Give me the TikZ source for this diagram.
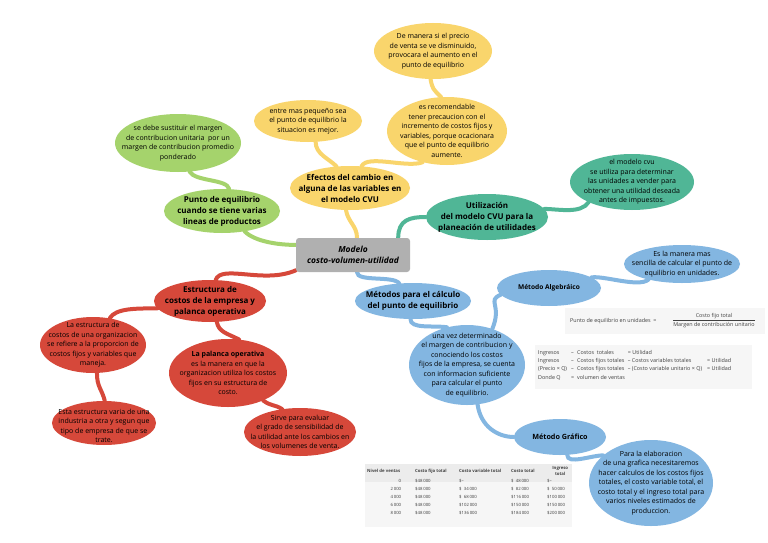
\documentclass[tikz,border=0pt]{standalone}
\usepackage{fontspec}
\setmainfont{Open Sans}
\usepackage{array}
\usetikzlibrary{shapes.geometric}
\pgfdeclarelayer{back}
\pgfdeclarelayer{bg}
\pgfsetlayers{back,bg,main}
\definecolor{cyel}{RGB}{249,213,108}
\definecolor{cgrn}{RGB}{165,211,108}
\definecolor{ctea}{RGB}{80,182,150}
\definecolor{cred}{RGB}{214,72,58}
\definecolor{cblu}{RGB}{131,182,225}
\definecolor{cgry}{RGB}{176,176,176}
\definecolor{cbox}{RGB}{246,246,246}
\definecolor{chead}{RGB}{236,236,236}
\begin{document}
\begin{tikzpicture}[x=1pt,y=-1pt,
  blob/.style={ellipse, inner sep=0pt, draw=none},
  txt/.style={align=center, inner sep=0pt, text=black, font=\fontsize{7}{9.5}\selectfont},
  ttl/.style={align=center, inner sep=0pt, text=black, font=\fontsize{8}{11}\selectfont\bfseries},
  sml/.style={align=center, inner sep=0pt, text=black, font=\fontsize{6.6}{8}\selectfont\bfseries},
  con/.style={line width=4pt, line cap=round},
  tiny/.style={inner sep=0pt, text=black!75, font=\fontsize{5.4}{8.8}\selectfont}
]
\begin{pgfonlayer}{back}
\fill[white] (0,0) rectangle (768,543);
\end{pgfonlayer}
\useasboundingbox (0,0) rectangle (768,543);

% centre
\node[rectangle, rounded corners=3pt, fill=cgry, minimum width=114pt, minimum height=34pt, inner sep=0pt] (cen) at (353,255) {};
\node[align=center, inner sep=0pt, font=\fontsize{8.4}{11.5}\selectfont\bfseries\itshape] (cenT) at (cen) {Modelo\\costo-volumen-utilidad};

% yellow
\node[blob, fill=cyel, minimum width=120pt, minimum height=44pt] (efe) at (350,188) {};
\node[ttl] (efeT) at (efe) {Efectos del cambio en\\alguna de las variables en\\el modelo CVU};
\node[blob, fill=cyel, minimum width=108pt, minimum height=42pt] (entre) at (308,121) {};
\node[txt] (entreT) at (entre) {entre mas pequeño sea\\el punto de equilibrio la\\situacion es mejor.};
\node[blob, fill=cyel, minimum width=120pt, minimum height=68pt] (esrec) at (447,131) {};
\node[txt] (esrecT) at (esrec) {es recomendable\\tener precaucion con el\\incremento de costos fijos y\\variables, porque ocacionara\\que el punto de equilibrio\\aumente.};
\node[blob, fill=cyel, minimum width=118pt, minimum height=56pt] (dem) at (433,51) {};
\node[txt] (demT) at (dem) {De manera si el precio\\de venta se ve disminuido,\\provocara el aumento en el\\punto de equilibrio};

% green
\node[blob, fill=cgrn, minimum width=116pt, minimum height=44pt] (pt) at (222,211) {};
\node[ttl] (ptT) at (pt) {Punto de equilibrio\\cuando se tiene varias\\lineas de productos};
\node[blob, fill=cgrn, minimum width=126pt, minimum height=58pt] (sed) at (178,143) {};
\node[txt] (sedT) at (sed) {se debe sustituir el margen\\de contribucion unitaria\ \ por un\\margen de contribucion promedio\\ponderado};

% teal
\node[blob, fill=ctea, minimum width=122pt, minimum height=46pt] (uti) at (487,217) {};
\node[ttl] (utiT) at (uti) {Utilización\\del modelo CVU para la\\planeación de utilidades};
\node[blob, fill=ctea, minimum width=124pt, minimum height=56pt] (utl) at (632,182) {};
\node[txt] (utlT) at (utl) {el modelo cvu\\se utiliza para determinar\\las unidades a vender para\\obtener una utilidad deseada\\antes de impuestos.};

% red
\node[blob, fill=cred, minimum width=112pt, minimum height=42pt] (est) at (210,301) {};
\node[ttl] (estT) at (est) {Estructura de\\costos de la empresa y\\palanca operativa};
\node[blob, fill=cred, minimum width=106pt, minimum height=56pt] (lae) at (93,345) {};
\node[txt] (laeT) at (lae) {La estructura de\\costos de una organizacion\\se refiere a la proporcion de\\costos fijos y variables que\\maneja.};
\node[blob, fill=cred, minimum width=104pt, minimum height=44pt] (esta) at (104,423) {};
\node[txt] (estaT) at ([yshift=-3pt]esta) {Esta estructura varia de una\\industria a otra y segun que\\tipo de empresa de que se\\trate.};
\node[blob, fill=cred, minimum width=118pt, minimum height=68pt] (pal) at (228,373) {};
\node[txt] (palT) at (pal) {\textbf{La palanca operativa}\\es la manera en que la\\organizacion utiliza los costos\\fijos en su estructura de\\costo.};
\node[blob, fill=cred, minimum width=112pt, minimum height=48pt] (sir) at (300,432) {};
\node[txt] (sirT) at (sir) {Sirve para evaluar\\el grado de sensibilidad de\\la utilidad ante los cambios en\\los volumenes de venta.};

% blue
\node[blob, fill=cblu, minimum width=116pt, minimum height=36pt] (met) at (413,301) {};
\node[ttl] (metT) at (met) {Métodos para el cálculo\\del punto de equilibrio};
\node[blob, fill=cblu, minimum width=116pt, minimum height=80pt] (una) at (467,365) {};
\node[txt] (unaT) at (una) {una vez determinado\\el margen de contribucion y\\conociendo los costos\\fijos de la empresa, se cuenta\\con informacion suficiente\\para calcular el punto\\de equilibrio.};
\node[blob, fill=cblu, minimum width=104pt, minimum height=36pt] (alg) at (549,288) {};
\node[sml] (algT) at (alg) {Método Algebráico};
\node[blob, fill=cblu, minimum width=116pt, minimum height=38pt] (esl) at (682,264) {};
\node[txt] (eslT) at (esl) {Es la manera mas\\sencilla de calcular el punto de\\equilibrio en unidades.};
\node[blob, fill=cblu, minimum width=92pt, minimum height=36pt] (gra) at (560,437) {};
\node[sml, font=\fontsize{7.2}{8}\selectfont\bfseries] (graT) at (gra) {Método Gráfico};
\node[blob, fill=cblu, minimum width=124pt, minimum height=86pt] (par) at (651,483) {};
\node[txt] (parT) at (par) {Para la elaboracion\\de una grafica necesitaremos\\hacer calculos de los costos fijos\\totales, el costo variable total, el\\costo total y el ingreso total para\\varios niveles estimados de\\produccion.};

% formula box
\fill[cbox] (565,308) rectangle (765,334);
\node[tiny, anchor=west] (fl) at (570,321) {Punto de equilibrio en unidades\ \ =};
\node[tiny, anchor=center] (fr) at (714,321) {\setlength{\tabcolsep}{0pt}\renewcommand{\arraystretch}{0.7}\begin{tabular}{c}Costo fijo total\\[1pt]\hline\rule{0pt}{6pt}Margen de contribución unitario\end{tabular}};

% equation box
\fill[cbox] (535,345) rectangle (752,389);
\node[tiny, anchor=north west] (eq) at (538,348) {\renewcommand{\arraystretch}{0.95}\begin{tabular}{@{}l@{\hspace{4pt}}l@{\hspace{3pt}}l@{\hspace{3pt}}l@{\hspace{5pt}}l@{}}
Ingresos & – & Costos\ \ totales & = Utilidad & \\
Ingresos & – & Costos fijos totales & – Costos variables totales & = Utilidad\\
(Precio × Q) & – & Costos fijos totales & – (Costo variable unitario × Q) & = Utilidad\\
Donde Q & = & volumen de ventas & & \\
\end{tabular}};

% table
\fill[cbox] (365,464) rectangle (572,527);
\fill[chead] (365,464) rectangle (572,482);
\node[tiny, font=\fontsize{4.3}{5.2}\selectfont, anchor=north west] (tab) at (367,466) {\setlength{\tabcolsep}{0pt}\renewcommand{\arraystretch}{1.55}\begin{tabular}{@{}>{\raggedleft\arraybackslash}p{34pt}@{\hspace{14pt}}>{\raggedright\arraybackslash}p{38pt}@{\hspace{6pt}}>{\raggedright\arraybackslash}p{46pt}@{\hspace{6pt}}>{\raggedright\arraybackslash}p{32pt}@{\hspace{4pt}}>{\raggedright\arraybackslash}p{26pt}@{}}
\multicolumn{1}{@{}l}{\textbf{Nivel de ventas}} & \multicolumn{1}{l}{\textbf{Costo fijo total}} & \multicolumn{1}{l}{\textbf{Costo variable total}} & \multicolumn{1}{l}{\textbf{Costo total}} & \multicolumn{1}{c}{\renewcommand{\arraystretch}{1}\begin{tabular}{@{}c@{}}\textbf{Ingreso}\\\textbf{total}\end{tabular}}\\
0 & \$48\,000 & \$– & \$\ \ 48\,000 & \$–\\
2\,000 & \$48\,000 & \$\ \ 34\,000 & \$\ \ 82\,000 & \$\ \ 50\,000\\
4\,000 & \$48\,000 & \$\ \ 68\,000 & \$116\,000 & \$100\,000\\
6\,000 & \$48\,000 & \$102\,000 & \$150\,000 & \$150\,000\\
8\,000 & \$48\,000 & \$136\,000 & \$184\,000 & \$200\,000\\
\end{tabular}};

% connectors
\begin{pgfonlayer}{bg}
\draw[con,cyel] ([xshift=4pt]cen.north) .. controls +(0,-12) and +(2,12) .. ([xshift=-4pt]efe.south);
\draw[con,cyel] (efe.122) .. controls +(-8,-8) and +(0,12) .. (entre.290);
\draw[con,cyel] (efe.62) .. controls +(6,-12) and +(-16,6) .. (esrec.232);
\draw[con,cyel] (esrec.100) .. controls +(-8,-8) and +(2,10) .. (dem.265);
\draw[con,cgrn] (cen.170) .. controls +(-18,0) and +(10,10) .. (pt.318);
\draw[con,cgrn] (pt.72) .. controls +(-2,-10) and +(6,10) .. (sed.292);
\draw[con,ctea] ([xshift=-12pt]cen.north east) .. controls +(0,-18) and +(-16,0) .. (uti.west);
\draw[con,ctea] (uti.8) .. controls +(14,0) and +(-8,12) .. (utl.205);
\draw[con,cred] (cen.195) .. controls +(-32,14) and +(6,-16) .. (est.75);
\draw[con,cred] (est.188) .. controls +(-22,0) and +(6,-10) .. (lae.58);
\draw[con,cred] (lae.278) .. controls +(0,14) and +(-3,-12) .. (esta.88);
\draw[con,cred] (est.288) .. controls +(2,10) and +(-12,-6) .. (pal.72);
\draw[con,cred] (pal.322) .. controls +(8,6) and +(-8,-5) .. (sir.128);
\draw[con,cblu] ([xshift=4pt]cen.south) .. controls +(0,10) and +(-6,-8) .. (met.128);
\draw[con,cblu] (met.262) .. controls +(0,10) and +(-14,-2) .. (una.118);
\draw[con,cblu] (una.55) .. controls +(10,-24) and +(-14,6) .. (alg.188);
\draw[con,cblu] (alg.14) .. controls +(12,-2) and +(-10,8) .. (esl.205);
\draw[con,cblu] (una.285) .. controls +(3,22) and +(-16,0) .. (gra.west);
\draw[con,cblu] (gra.292) .. controls +(0,10) and +(-12,0) .. (par.150);
\end{pgfonlayer}
\end{tikzpicture}
\end{document}
